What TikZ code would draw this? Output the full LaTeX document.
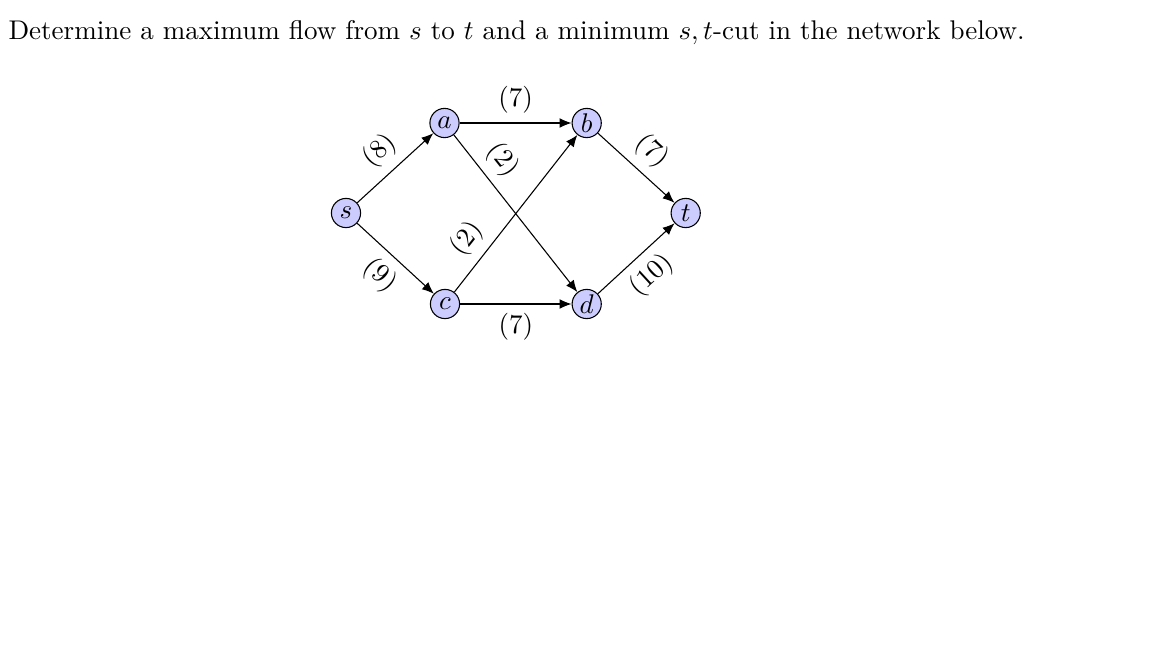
\documentclass[tikz,border=0pt]{standalone}
\usetikzlibrary{arrows.meta}
\begin{document}
\begin{tikzpicture}[x=0.37pt,y=-0.37pt,
  vtx/.style={circle,draw,fill=blue!20,minimum size=10.8pt,inner sep=0pt},
  arc/.style={-{Latex[length=4.4pt,width=3.6pt]},line width=0.4pt},
  lab/.style={sloped,font=\normalsize}]
\useasboundingbox (0,0) rectangle (1152,648);
\node[anchor=base west,inner sep=0pt] (title) at (8,39.5) {Determine a maximum flow from $s$ to $t$ and a minimum $s,t$-cut in the network below.};
\node[vtx] (s) at (346,213) {$s$};
\node[vtx] (a) at (444.5,123) {$a$};
\node[vtx] (b) at (586.7,123) {$b$};
\node[vtx] (c) at (445,304) {$c$};
\node[vtx] (d) at (586.7,304) {$d$};
\node[vtx] (t) at (685.7,213) {$t$};
\draw[arc] (s) -- node[lab,above] {(8)} (a);
\draw[arc] (s) -- node[lab,below] {(9)} (c);
\draw[arc] (a) -- node[lab,above] {(7)} (b);
\draw[arc] (c) -- node[lab,below] {(7)} (d);
\draw[arc] (a) -- node[lab,above,pos=0.25] {(2)} (d);
\draw[arc] (c) -- node[lab,above,pos=0.25] {(2)} (b);
\draw[arc] (b) -- node[lab,above] {(7)} (t);
\draw[arc] (d) -- node[lab,below] {(10)} (t);
\end{tikzpicture}
\end{document}
